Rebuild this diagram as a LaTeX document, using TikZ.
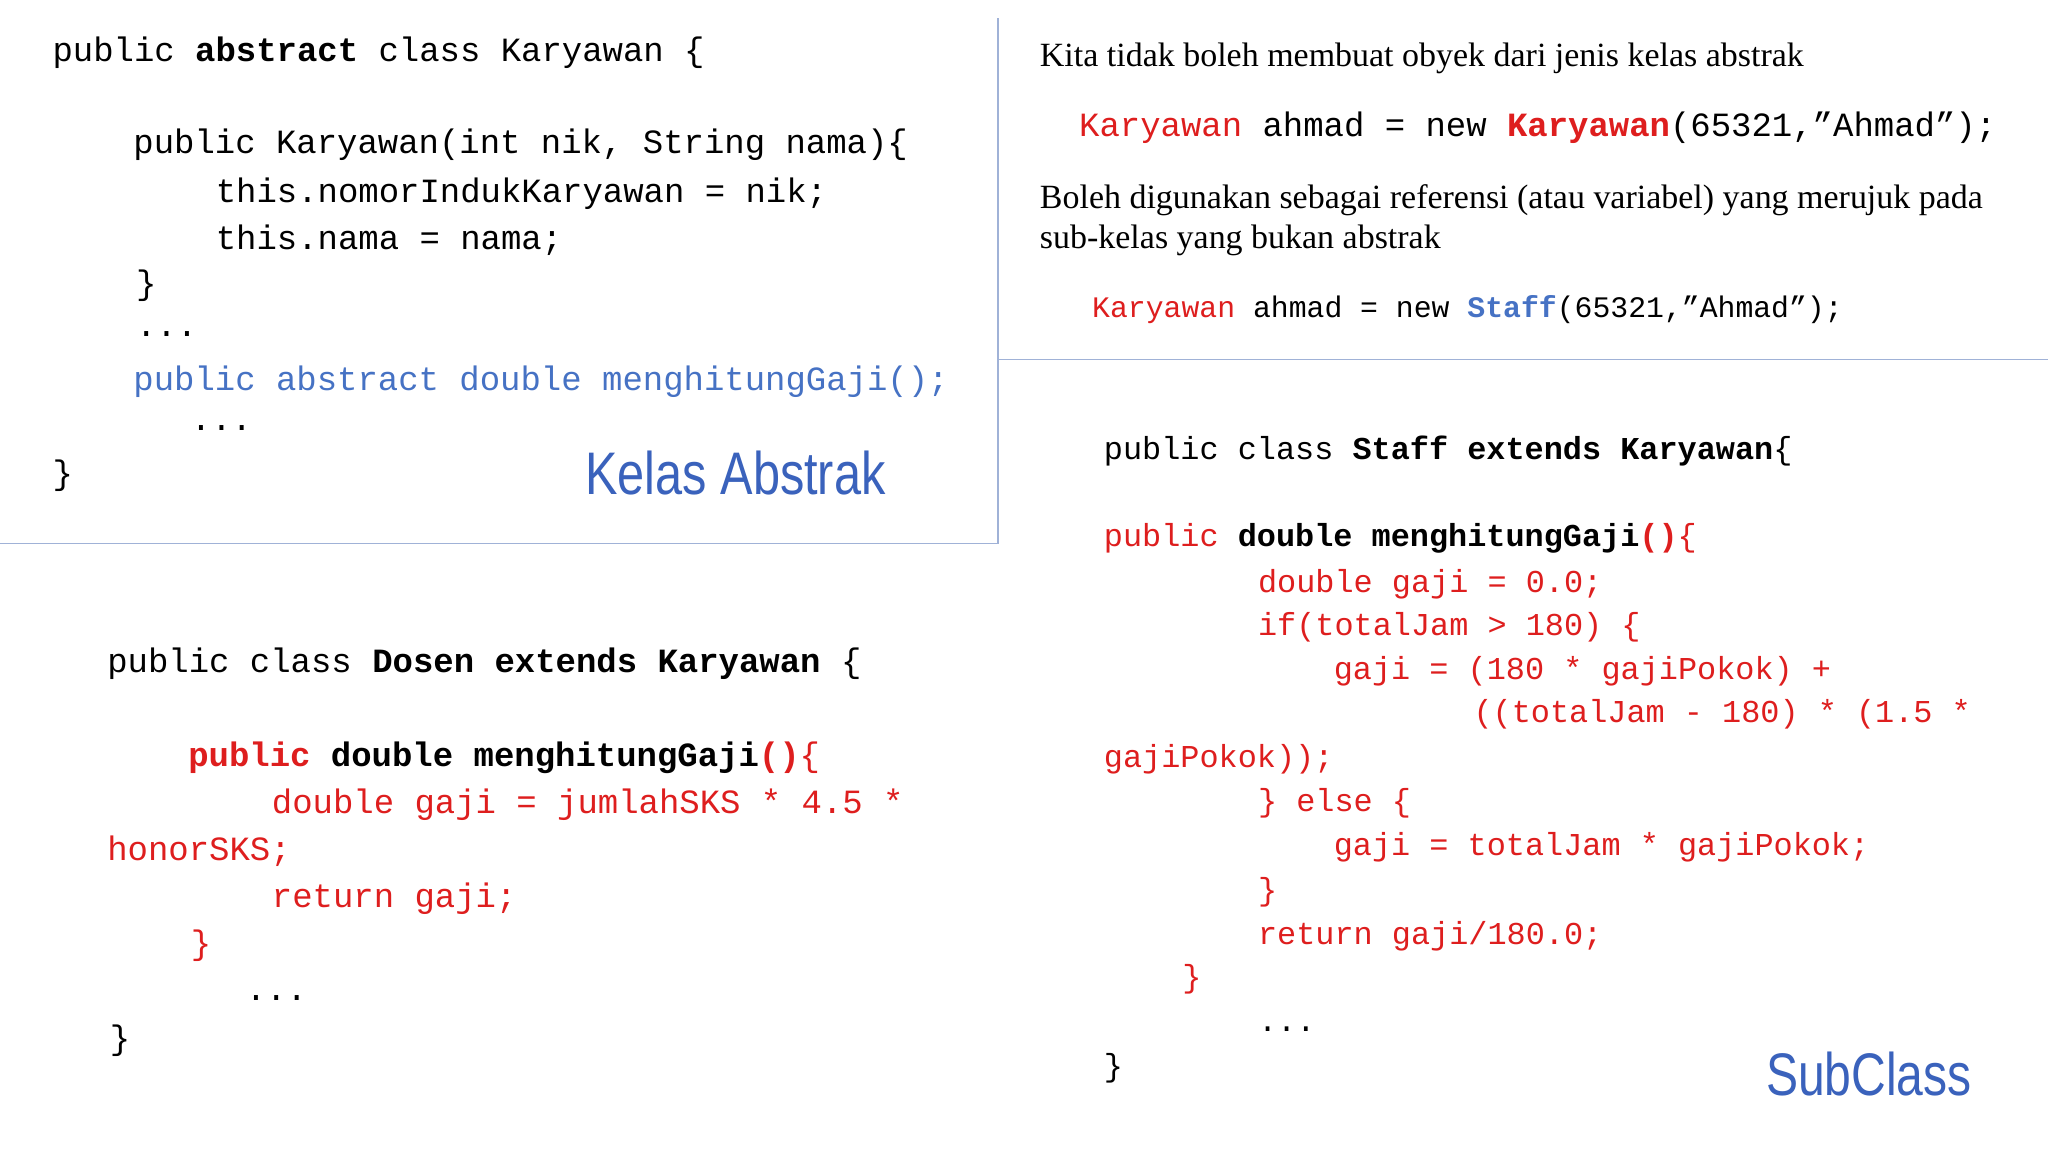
\documentclass[tikz,border=0pt]{standalone}
\usepackage{fontspec}
\setmainfont{Liberation Serif}
\setmonofont{Liberation Mono}
\newfontfamily\titlefont{Liberation Sans}
\definecolor{cred}{RGB}{222,30,30}
\definecolor{cblue}{RGB}{70,114,196}
\definecolor{tblue}{RGB}{58,98,188}
\definecolor{rule}{RGB}{160,178,215}
\begin{document}
\begin{tikzpicture}[x=1pt,y=-1pt,
  every node/.style={anchor=west,inner sep=0pt},
  cA/.style={font=\fontsize{26}{30}\selectfont\ttfamily},
  cB/.style={font=\fontsize{24.4}{30}\selectfont\ttfamily},
  cC/.style={font=\fontsize{22.8}{28}\selectfont\ttfamily},
  txt/.style={font=\fontsize{26}{30}\selectfont},
  ttl/.style={font=\fontsize{46}{50}\selectfont\titlefont,text=tblue}]
\useasboundingbox[fill=white] (0,0) rectangle (1568,882);
\draw[rule,line width=1pt] (764,14) -- (764,416) -- (0,416);
\draw[rule,line width=1pt] (764,275) -- (1568,275);
% top-left
\node[cA] (a1) at (40,40) {public \textbf{abstract} class Karyawan \{};
\node[cA] (a2) at (102,111) {public Karyawan(int nik, String nama)\{};
\node[cA] (a3) at (165,148) {this.nomorIndukKaryawan = nik;};
\node[cA] (a4) at (165,184) {this.nama = nama;};
\node[cA] (a5) at (104,219) {\}};
\node[cA] (a6) at (104,256) {...};
\node[cA,text=cblue] (a7) at (102,292) {public abstract double menghitungGaji();};
\node[cA] (a8) at (146,328) {...};
\node[cA] (a9) at (40,364) {\}};
\node[ttl,xscale=0.81] (t1) at (448,362) {Kelas Abstrak};
% top-right
\node[txt] (b1) at (796,45) {Kita tidak boleh membuat obyek dari jenis kelas abstrak};
\node[cA] (b2) at (826,98) {\textcolor{cred}{Karyawan} ahmad = new \textcolor{cred}{\textbf{Karyawan}}(65321,”Ahmad”);};
\node[txt] (b3) at (796,153) {Boleh digunakan sebagai referensi (atau variabel) yang merujuk pada};
\node[txt] (b4) at (796,184) {sub-kelas yang bukan abstrak};
\node[cC] (b5) at (836,237) {\textcolor{cred}{Karyawan} ahmad = new \textcolor{cblue}{\textbf{Staff}}(65321,”Ahmad”);};
% bottom-right
\node[cB] (s1) at (845,345) {public class \textbf{Staff extends Karyawan}\{};
\node[cB] (s2) at (845,412) {\textcolor{cred}{public} \textbf{double menghitungGaji}\textcolor{cred}{\textbf{()}\{}};
\begin{scope}[every node/.append style={cB,text=cred}]
\node (s3) at (963,447) {double gaji = 0.0;};
\node (s4) at (963,480) {if(totalJam > 180) \{};
\node (s5) at (1021,514) {gaji = (180 * gajiPokok) +};
\node (s6) at (1128,547) {((totalJam - 180) * (1.5 *};
\node (s7) at (845,581) {gajiPokok));};
\node (s8) at (963,615) {\} else \{};
\node (s9) at (1021,649) {gaji = totalJam * gajiPokok;};
\node (s10) at (963,683) {\}};
\node (s11) at (963,717) {return gaji/180.0;};
\node (s12) at (905,750) {\}};
\end{scope}
\node[cB] (s13) at (963,788) {...};
\node[cB] (s14) at (845,818) {\}};
\node[ttl,xscale=0.8] (t2) at (1352,822) {SubClass};
% bottom-left
\node[cA] (d1) at (82,508) {public class \textbf{Dosen extends Karyawan} \{};
\node[cA] (d2) at (144,580) {\textcolor{cred}{\textbf{public}} \textbf{double menghitungGaji}\textcolor{cred}{\textbf{()}\{}};
\begin{scope}[every node/.append style={cA,text=cred}]
\node (d3) at (208,616) {double gaji = jumlahSKS * 4.5 *};
\node (d4) at (82,652) {honorSKS;};
\node (d5) at (208,688) {return gaji;};
\node (d6) at (146,724) {\}};
\end{scope}
\node[cA] (d7) at (188,764) {...};
\node[cA] (d8) at (84,797) {\}};
\end{tikzpicture}
\end{document}
